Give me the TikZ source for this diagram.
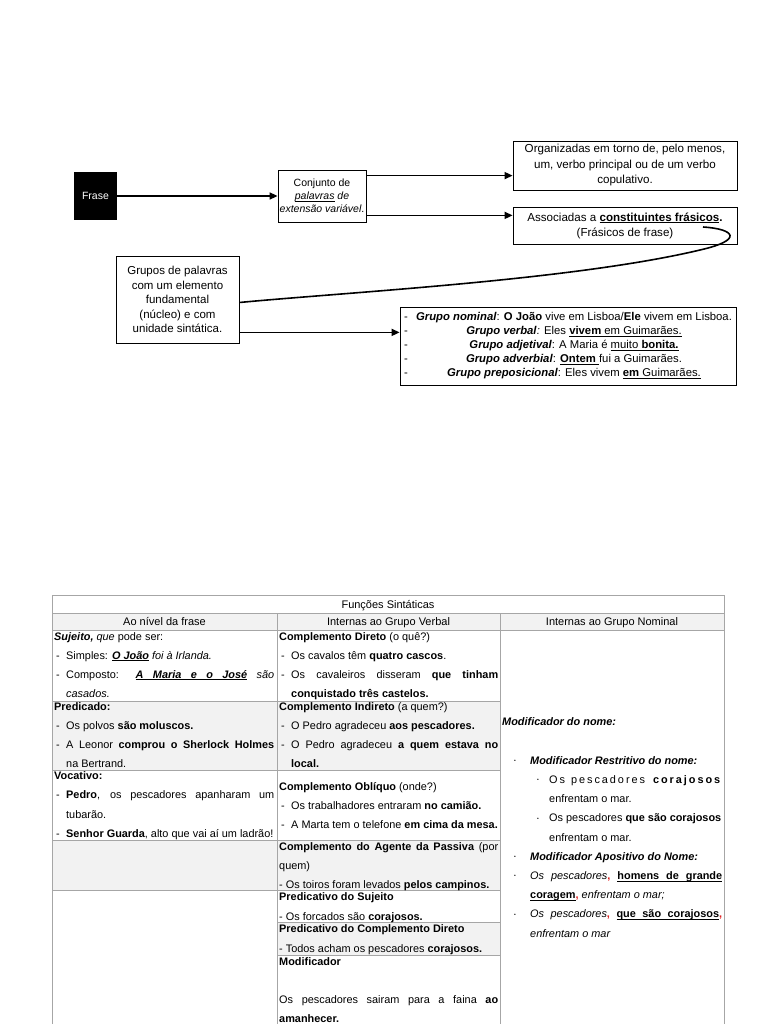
\documentclass[tikz,border=0pt]{standalone}
\usepackage{fontspec}
\setmainfont{Liberation Sans}
\usetikzlibrary{arrows.meta}

\definecolor{cellgray}{HTML}{F2F2F2}
\definecolor{tabline}{HTML}{A6A6A6}
\definecolor{redc}{HTML}{E02020}

\newcommand{\dsh}{\hspace*{2pt}\makebox[10pt][l]{-}}
\newcommand{\ind}{\hspace*{12pt}}
\newcommand{\dotb}{\raisebox{.3ex}{\tiny\textbullet}}
\newcommand{\rc}{\textcolor{redc}{\textbf{,}}}
\newcommand{\gl}[1]{\makebox[328pt][l]{\makebox[12pt][l]{-}\hfill #1\hfill}}
% underlined word, and underlined stretchable space
\newsavebox{\ubx}
\newcommand{\uw}[1]{\sbox{\ubx}{#1}\rlap{\rule[-2pt]{\wd\ubx}{0.6pt}}\usebox{\ubx}}
\newcommand{\usp}{\leaders\vrule height -1.4pt depth 2pt\hskip\fontdimen2\font plus\fontdimen3\font minus\fontdimen4\font}

\begin{document}
\begin{tikzpicture}[x=1pt, y=-1pt,
		box/.style={rectangle, draw=black, line width=0.8pt, inner sep=0pt, align=center},
		dark/.style={rectangle, fill=black, text=white, inner sep=0pt, minimum width=43pt, minimum height=48pt, font=\fontsize{10.5}{12}\selectfont},
		arr/.style={line width=1.6pt, -{Triangle[length=8pt, width=7pt]}},
		lnk/.style={line width=1.6pt},
		tl/.style={draw=tabline, line width=1pt},
		hd/.style={anchor=base, inner sep=0pt, font=\fontsize{11}{12}\selectfont},
		cell/.style={anchor=base west, align=left, inner sep=0pt, font=\fontsize{10.9}{19}\selectfont},
		]
		\useasboundingbox (0,0) rectangle (768,1024);
		\fill[white] (0,0) rectangle (768,1024);

		%Diagram
		\node[dark] (frase) at (95.5,196) {Frase};
		\node[box, minimum width=88pt, minimum height=52pt, font=\fontsize{10.5}{13}\selectfont] (conj) at (322,196)
			{Conjunto de\\ \textit{\uw{palavras} de}\\ \textit{extensão variável}.};
		\node[box, minimum width=224pt, minimum height=49pt, font=\fontsize{11.6}{15.5}\selectfont] (org) at (625,165.5)
			{Organizadas em torno de, pelo menos,\\ um, verbo principal ou de um verbo\\ copulativo.};
		\node[box, minimum width=224pt, minimum height=37pt, font=\fontsize{11.6}{15}\selectfont] (assoc) at (625,225.5)
			{Associadas a \uw{\textbf{constituintes frásicos}}\textbf{.}\\ (Frásicos de frase)};
		\node[box, minimum width=123pt, minimum height=87pt, font=\fontsize{11.5}{14.5}\selectfont] (grupos) at (177.5,299.5)
			{Grupos de palavras\\ com um elemento\\ fundamental\\ (núcleo) e com\\ unidade sintática.};
		\node[box, minimum width=336pt, minimum height=78pt, align=left, font=\fontsize{11.3}{14}\selectfont] (lista) at (568,346)
			{\gl{\textbf{\textit{Grupo nominal}}: \textbf{O João} vive em Lisboa/\textbf{Ele} vivem em Lisboa.}\\
			 \gl{\textbf{\textit{Grupo verbal}}\textit{:} Eles \uw{\textbf{vivem} em Guimarães.}}\\
			 \gl{\textbf{\textit{Grupo adjetival}}: A Maria é \uw{muito \textbf{bonita.}}}\\
			 \gl{\textbf{\textit{Grupo adverbial}}: \uw{\textbf{Ontem} }fui a Guimarães.}\\
			 \gl{\textbf{\textit{Grupo preposicional}}: Eles vivem \uw{\textbf{em} Guimarães.}}};

		\draw[arr] (frase) -- (conj);
		\draw[arr] ([yshift=-6pt]conj.north east) -- ([yshift=-6pt]conj.north east -| org.west);
		\draw[arr] ([yshift=7pt]conj.south east) -- ([yshift=7pt]conj.south east -| assoc.west);
		\draw[arr] ([yshift=11pt]grupos.south east) -- ([yshift=11pt]grupos.south east -| lista.west);
		\coordinate (cst) at (703,227);
		\draw[lnk] (cst) .. controls (735,229) and (744,240) .. (700,250)
			.. controls (574,280) and (350,292) .. ([yshift=-3pt]grupos.east);

		%Table
		\fill[cellgray] (52,613) rectangle (724,630);
		\fill[cellgray] (52,701) rectangle (500,770);
		\fill[cellgray] (52,840) rectangle (500,890);
		\fill[cellgray] (277,922) rectangle (500,955);
		\draw[tl] (52,1024) -- (52,595) -- (724,595) -- (724,1024);
		\foreach \y in {613,630} \draw[tl] (52,\y) -- (724,\y);
		\foreach \y in {701,770,840,890} \draw[tl] (52,\y) -- (500,\y);
		\foreach \y in {922,955} \draw[tl] (277,\y) -- (500,\y);
		\foreach \x in {277,500} \draw[tl] (\x,613) -- (\x,1024);

		\node[hd] (tit) at (388,608) {Funções Sintáticas};
		\node[hd] (h1) at (164.5,625.5) {Ao nível da frase};
		\node[hd] (h2) at (388.5,625.5) {Internas ao Grupo Verbal};
		\node[hd] (h3) at (612,625.5) {Internas ao Grupo Nominal};

		% multi-line cells sit on the baseline of their last line
		\node[cell] (suj) at (54,697) {\textbf{\textit{Sujeito,}} \textit{que} pode ser:\\
			\dsh Simples: \uw{\textbf{\textit{O João}}}\textit{ foi à Irlanda.}\\
			\dsh\makebox[208pt][s]{Composto: \textbf{\textit{\uw{A}\usp\uw{Maria}\usp\uw{e}\usp\uw{o}\usp\uw{José}}} \textit{são}}\\
			\ind\textit{casados.}};
		\node[cell] (cd) at (279,697) {\textbf{Complemento Direto} (o quê?)\\
			\dsh Os cavalos têm \textbf{quatro cascos}.\\
			\dsh\makebox[207pt][s]{Os cavaleiros disseram \textbf{que tinham}}\\
			\ind\textbf{conquistado três castelos.}};
		\node[cell] (pred) at (54,767) {\textbf{Predicado:}\\
			\dsh Os polvos \textbf{são moluscos.}\\
			\dsh\makebox[208pt][s]{A Leonor \textbf{comprou o Sherlock Holmes}}\\
			\ind na Bertrand.};
		\node[cell] (ci) at (279,767) {\textbf{Complemento Indireto} (a quem?)\\
			\dsh O Pedro agradeceu \textbf{aos pescadores.}\\
			\dsh\makebox[207pt][s]{O Pedro agradeceu \textbf{a quem estava no}}\\
			\ind\textbf{local.}};
		\node[cell, font=\fontsize{10.9}{19.5}\selectfont] (voc) at (54,837.5) {\textbf{Vocativo:}\\
			\dsh\makebox[208pt][s]{\textbf{Pedro}, os pescadores apanharam um}\\
			\ind tubarão.\\
			\dsh\textbf{Senhor Guarda}, alto que vai aí um ladrão!};
		\node[cell] (co) at (279,828) {\textbf{Complemento Oblíquo} (onde?)\\
			\dsh Os trabalhadores entraram \textbf{no camião.}\\
			\dsh A Marta tem o telefone \textbf{em cima da mesa.}};
		\node[cell] (cap) at (279,888) {\makebox[219pt][s]{\textbf{Complemento do Agente da Passiva} (por}\\
			quem)\\
			- Os toiros foram levados \textbf{pelos campinos.}};
		\node[cell, font=\fontsize{10.9}{20}\selectfont] (ps) at (279,920) {\textbf{Predicativo do Sujeito}\\
			- Os forcados são \textbf{corajosos.}};
		\node[cell, font=\fontsize{10.9}{20}\selectfont] (pcd) at (279,952) {\textbf{Predicativo do Complemento Direto}\\
			- Todos acham os pescadores \textbf{corajosos.}};
		\node[cell] (modif) at (279,1022) {\textbf{Modificador}\\
			\mbox{}\\
			\makebox[219pt][s]{Os pescadores sairam para a faina \textbf{ao}}\\
			\textbf{amanhecer.}};

		\node[cell, font=\fontsize{10.9}{19.2}\selectfont] (modnome) at (502,937) {\textbf{\textit{Modificador do nome:}}\\
			\mbox{}\\
			\hspace*{12pt}\makebox[16pt][l]{\dotb}\textbf{\textit{Modificador Restritivo do nome:}}\\
			\hspace*{35pt}\makebox[12pt][l]{\dotb}\makebox[173pt][s]{\addfontfeature{LetterSpace=18}Os pescadores \textbf{corajosos}}\\
			\hspace*{47pt}enfrentam o mar.\\
			\hspace*{35pt}\makebox[12pt][l]{\dotb}Os pescadores \textbf{que são corajosos}\\
			\hspace*{47pt}enfrentam o mar.\\
			\hspace*{12pt}\makebox[16pt][l]{\dotb}\textbf{\textit{Modificador Apositivo do Nome:}}\\
			\hspace*{12pt}\makebox[16pt][l]{\dotb}\makebox[192pt][s]{\textit{Os pescadores}\rc\ \textbf{\uw{homens}\usp\uw{de}\usp\uw{grande}}}\\
			\hspace*{28pt}\textbf{\uw{coragem}}\rc\ \textit{enfrentam o mar;}\\
			\hspace*{12pt}\makebox[16pt][l]{\dotb}\makebox[192pt][s]{\textit{Os pescadores}\rc\ \textbf{\uw{que}\usp\uw{são}\usp\uw{corajosos}}\rc}\\
			\hspace*{28pt}\textit{enfrentam o mar}};
	\end{tikzpicture}
\end{document}
